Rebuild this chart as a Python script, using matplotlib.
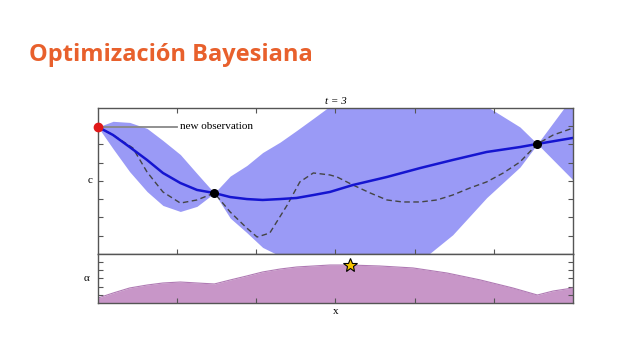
import numpy as np
import matplotlib.pyplot as plt

# surrogate model (x in 0..6, y in -4..4)
xs = [0, 0.19, 0.40, 0.62, 0.82, 1.04, 1.25, 1.47, 1.67, 1.88, 2.08, 2.30, 2.51,
      2.72, 2.93, 3.22, 3.65, 4.07, 4.48, 4.91, 5.33, 5.55, 6.0]
mean = [2.96, 2.52, 1.86, 1.15, 0.44, -0.11, -0.49, -0.66, -0.88, -0.99, -1.04, -0.99, -0.93,
        -0.77, -0.60, -0.22, 0.22, 0.71, 1.15, 1.59, 1.86, 2.03, 2.36]
sigma = [0, 0.75, 1.35, 1.73, 1.78, 1.56, 0.90, 0, 1.15, 1.84, 2.6, 3.12, 3.7,
         4.2, 4.7, 5.1, 5.3, 5.1, 4.1, 2.5, 1.1, 0, 2.3]

# true (hidden) function
x_true = [0, 0.19, 0.44, 0.62, 0.82, 1.04, 1.25, 1.47, 1.67, 1.88, 2.01, 2.17, 2.39, 2.55,
          2.72, 2.93, 3.02, 3.22, 3.44, 3.65, 3.85, 4.07, 4.28, 4.48, 4.70, 4.91, 5.12,
          5.33, 5.55, 5.75, 6.0]
y_true = [2.96, 2.52, 1.81, 0.49, -0.60, -1.21, -1.04, -0.66, -1.70, -2.58, -3.07, -2.85, -1.32, -0.05,
          0.44, 0.33, 0.22, -0.22, -0.66, -1.04, -1.15, -1.15, -1.04, -0.77, -0.38, -0.05, 0.44,
          1.04, 2.03, 2.52, 2.90]

obs_x = [1.47, 5.55]
obs_y = [-0.66, 2.03]
new_x, new_y = 0.0, 2.96

# acquisition function
x_acq = [0, 0.19, 0.40, 0.62, 0.82, 1.04, 1.25, 1.47, 1.67, 1.88, 2.08, 2.30, 2.51, 2.72,
         2.93, 3.18, 3.56, 3.98, 4.41, 4.83, 5.24, 5.55, 5.75, 6.0]
acq = [0.61, 1.22, 1.84, 2.20, 2.45, 2.57, 2.45, 2.33, 2.82, 3.31, 3.80, 4.16, 4.41, 4.53,
       4.65, 4.65, 4.53, 4.29, 3.67, 2.82, 1.84, 0.98, 1.47, 1.84]
star_x, star_y = 3.18, 4.65

serif = 'Liberation Serif'
fig = plt.figure(figsize=(6.38, 3.59), dpi=100)
fig.text(0.045, 0.830, 'Optimización Bayesiana', color='#E8602C', fontsize=17,
         fontweight='bold', family='Open Sans')

ax = fig.add_axes([0.1536, 0.2925, 0.7445, 0.4067])
ax2 = fig.add_axes([0.1536, 0.156, 0.7445, 0.1365])

m = np.array(mean)
s = np.array(sigma)
ax.fill_between(xs, m - s, m + s, color='#9A9AF6', lw=0)
ax.plot(x_true, y_true, '--', color='#444444', lw=1.0, dashes=(4, 2.5))
ax.plot(xs, mean, color='#1515D0', lw=1.8)
ax.plot([new_x, 1.0], [new_y, new_y], color='#888888', lw=1.3)
ax.plot(obs_x, obs_y, 'o', color='black', ms=5.5, zorder=5)
ax.plot(new_x, new_y, 'o', color='#E01818', ms=6, zorder=6, clip_on=False)
ax.text(1.04, new_y, 'new observation', family=serif, fontsize=8, va='center')
ax.set_xlim(0, 6)
ax.set_ylim(-4, 4)
ax.set_xticks(range(1, 6))
ax.set_yticks(range(-3, 4))
ax.tick_params(direction='in', top=True, right=True, labelbottom=False,
               labelleft=False, length=3.5, color='#555555')
ax.set_ylabel('c', family=serif, fontsize=8, rotation=0, labelpad=6, va='center')
ax.set_title('t = 3', family=serif, style='italic', fontsize=8, pad=3)

ax2.fill_between(x_acq, 0, acq, color='#C896C8', lw=0)
ax2.plot(x_acq, acq, color='#B07AB4', lw=0.8)
ax2.plot(star_x, star_y, '*', ms=10, mfc='#F5C400', mec='black', mew=0.8, zorder=5,
         clip_on=False)
ax2.set_xlim(0, 6)
ax2.set_ylim(0, 6)
ax2.set_xticks(range(1, 6))
ax2.set_yticks(range(1, 6))
ax2.tick_params(direction='in', right=True, labelbottom=False, labelleft=False,
                length=3.5, color='#555555')
ax2.set_ylabel('α', family=serif, fontsize=8, rotation=0, labelpad=8, va='center')
ax2.set_xlabel('x', family=serif, fontsize=8, labelpad=3)

for a in (ax, ax2):
    for sp in a.spines.values():
        sp.set_color('#555555')
        sp.set_linewidth(1.0)

fig.savefig('out.png', dpi=100)
